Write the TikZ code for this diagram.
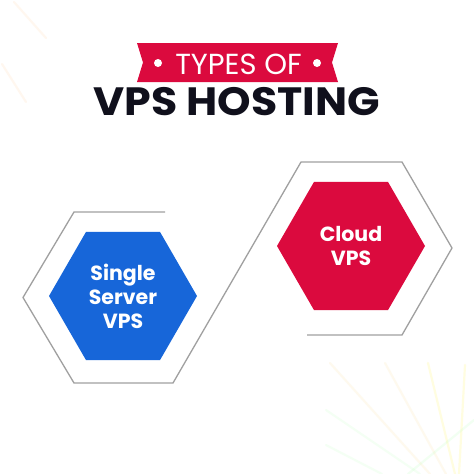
\documentclass[tikz,border=0pt]{standalone}
\usepackage{fontspec}
\setmainfont{Poppins}
\usetikzlibrary{calc}
\usetikzlibrary{shapes.geometric}

\definecolor{vpsred}{HTML}{DB0A3E}
\definecolor{vpsblue}{HTML}{1766D9}
\definecolor{vpsink}{HTML}{10101C}
\definecolor{vpsrim}{HTML}{A0A0A0}

\tikzset{
    hexfill/.style={regular polygon,regular polygon sides=6,minimum size=148pt,inner sep=0pt,outer sep=0pt},
    hextext/.style={text=white,font=\bfseries\fontsize{20.5}{24}\selectfont,align=center},
    ray/.style={line width=2.2pt,line cap=round}
}

\begin{document}
\begin{tikzpicture}[x=1pt,y=-1pt]%
    \useasboundingbox[fill=white] (0,0) rectangle (474,474);
    % faint rays in the corners
    \begin{scope}[ray,opacity=0.2]
        \draw[orange!30] (14,2)--(46,38);
        \draw[orange!30] (2,64)--(26,102);
        \draw[yellow!40!orange!30] (330,363)--(430,474);
        \draw[yellow!40!orange!30] (385,363)--(446,474);
        \draw[yellow!60] (428,363)--(455,474);
        \draw[yellow!60] (465,365)--(459,474);
        \draw[green!20] (326,410)--(420,474);
        \draw[green!20] (326,445)--(382,474);
        \draw[green!25] (474,420)--(408,474);
    \end{scope}
    % ribbon with title
    \fill[vpsred] (137,43)--(338,43)--(332,62.5)--(338,82)--(137,82)--(143,62.5)--cycle;
    \fill[white] (158,63) circle[radius=4];
    \fill[white] (317,63) circle[radius=4];
    \node[anchor=base,text=white,font=\fontsize{29}{30}\selectfont,inner sep=0pt] (types) at (238.5,74) {TYPES OF};
    \node[anchor=base,text=vpsink,font=\bfseries\fontsize{39.5}{40}\selectfont,inner sep=0pt,xscale=1.08] (title) at (236.5,115) {VPS HOSTING};
    % outline running round both hexagons
    \draw[vpsrim,line width=1.3pt,line join=round]
        (165,212)--(74,212)--(23,297.5)--(74,383)--(173,383)--(301,162)--(402,162)
        --(452,248)--(402,335)--(307,335);
    % the two hexagons
    \node[hexfill,fill=vpsblue] (single) at (123,296) {};
    \node[hexfill,fill=vpsred] (cloud) at (351,246) {};
    \node[hextext] (singletext) at (single.center) {Single\\Server\\VPS};
    \node[hextext] (cloudtext) at (cloud.center) {Cloud\\VPS};
\end{tikzpicture}
\end{document}
